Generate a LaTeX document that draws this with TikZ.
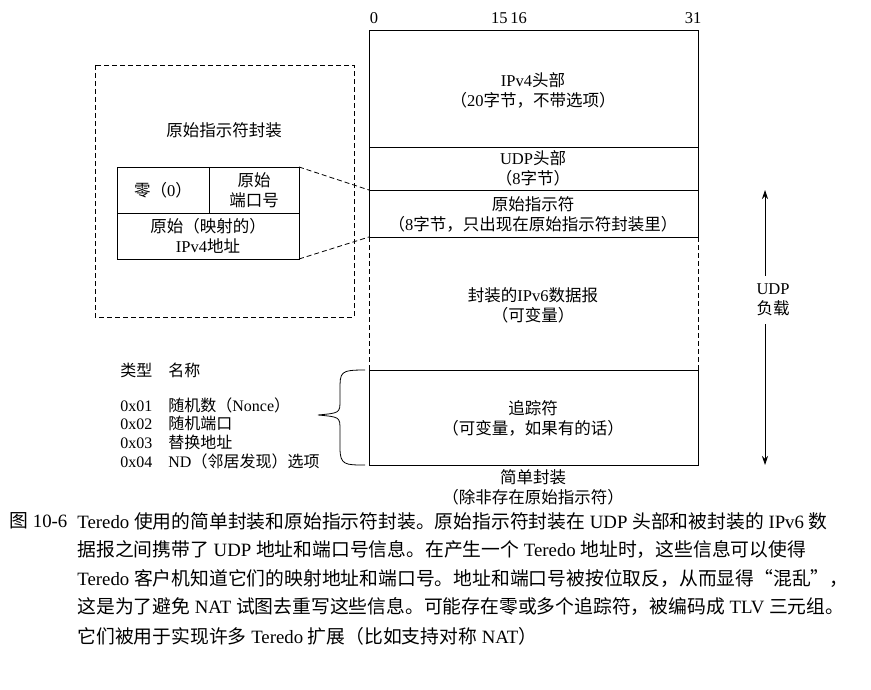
\documentclass[tikz,border=0pt]{standalone}
\usepackage{fontspec}
\setmainfont{Liberation Serif}
\newfontfamily\cjk{Noto Sans CJK SC}
\usetikzlibrary{decorations.pathreplacing,arrows.meta}
\XeTeXinterchartokenstate=1
\newXeTeXintercharclass\cjkcls
\newcount\mycnt
\def\setrange#1#2{\mycnt=#1\relax\loop\XeTeXcharclass\mycnt=\cjkcls\relax\ifnum\mycnt<#2\advance\mycnt by 1\repeat}
\setrange{"4E00}{"9FFF}
\setrange{"3000}{"303F}
\setrange{"FF00}{"FFEF}
\XeTeXcharclass"201C=\cjkcls
\XeTeXcharclass"201D=\cjkcls
\XeTeXinterchartoks 0 \cjkcls = {\cjk}
\XeTeXinterchartoks 4095 \cjkcls = {\cjk}
\XeTeXinterchartoks \cjkcls 0 = {\rmfamily}
\XeTeXinterchartoks \cjkcls 4095 = {\rmfamily}
\begin{document}
\begin{tikzpicture}[x=1pt,y=-1pt,line width=0.8pt,
  t/.style={font=\fontsize{16.5}{20}\selectfont,align=center,inner sep=0},
  l/.style={font=\fontsize{16}{20}\selectfont,anchor=west,inner sep=0},
  c/.style={font=\fontsize{18.8}{22}\selectfont,anchor=west,inner sep=0},
  dsh/.style={dash pattern=on 5pt off 3pt}]
\useasboundingbox (0,0) rectangle (871,690);
% top labels
\node[t] (b0) at (374,18) {0};
\node[t] (b15) at (509,18) {15\,16};
\node[t] (b31) at (693,18) {31};
% main stack
\draw (369,237) -- (369,30) -- (698,30) -- (698,237);
\draw (369,147) -- (698,147);
\draw (369,190) -- (698,190);
\draw (369,237) -- (698,237);
\draw[dsh] (369,237) -- (369,370);
\draw[dsh] (698,237) -- (698,370);
\draw (369,370) rectangle (698,465);
\node[t] (ipv4) at (533,90) {IPv4头部\\（20字节，不带选项）};
\node[t] (udp) at (533,168) {UDP头部\\（8字节）};
\node[t] (orig) at (533,214) {原始指示符\\（8字节，只出现在原始指示符封装里）};
\node[t] (enc) at (533,305) {封装的IPv6数据报\\（可变量）};
\node[t] (trl) at (533,418) {追踪符\\（可变量，如果有的话）};
\node[t] (simple) at (533,487) {简单封装\\（除非存在原始指示符）};
% udp payload arrow
\coordinate (ua) at (765,190);
\coordinate (ub) at (765,465);
\node[t] (up) at (773,300) {UDP\\负载};
\draw[-{Stealth[length=9pt,width=6pt]}] (up.north -| ua) ++(0,-8) -- (ua);
\draw[-{Stealth[length=9pt,width=6pt]}] (up.south -| ub) ++(0,8) -- (ub);
% left dashed box
\draw[dsh] (95,65) rectangle (354,317);
\node[t] (ttl) at (224,130) {原始指示符封装};
\draw (117,167) rectangle (299,259);
\draw (117,213) -- (299,213);
\draw (209,167) -- (209,213);
\node[t] (zero) at (163,190) {零（0）};
\node[t] (port) at (254,190) {原始\\端口号};
\node[t] (addr) at (208,236) {原始（映射的）\\IPv4地址};
\coordinate (p1) at (299,167); \coordinate (q1) at (369,190);
\coordinate (p2) at (299,259); \coordinate (q2) at (369,237);
\draw[dsh] (p1) -- (q1);
\draw[dsh] (p2) -- (q2);
% brace
\draw (365,370) .. controls (340,370) and (340,372) .. (340,390) -- (340,400) .. controls (340,413) .. (318,415)
      .. controls (340,417) .. (340,430) -- (340,448) .. controls (340,465) and (345,465) .. (365,465);
\node[l] (h) at (120,370) {类型\quad 名称};
\node[l] (r1) at (120,405) {0x01\quad 随机数（Nonce）};
\node[l] (r2) at (120,423) {0x02\quad 随机端口};
\node[l] (r3) at (120,442) {0x03\quad 替换地址};
\node[l] (r4) at (120,461) {0x04\quad ND（邻居发现）选项};
% caption
\node[c] (fig) at (9,521) {图 10-6};
\node[c] (c1) at (77,521) {Teredo 使用的简单封装和原始指示符封装。原始指示符封装在 UDP 头部和被封装的 IPv6 数};
\node[c] (c2) at (77,550) {据报之间携带了 UDP 地址和端口号信息。在产生一个 Teredo 地址时，这些信息可以使得};
\node[c] (c3) at (77,579) {Teredo 客户机知道它们的映射地址和端口号。地址和端口号被按位取反，从而显得“混乱”，};
\node[c] (c4) at (77,607) {这是为了避免 NAT 试图去重写这些信息。可能存在零或多个追踪符，被编码成 TLV 三元组。};
\node[c] (c5) at (77,636) {它们被用于实现许多 Teredo 扩展（比如支持对称 NAT）};
\end{tikzpicture}
\end{document}
